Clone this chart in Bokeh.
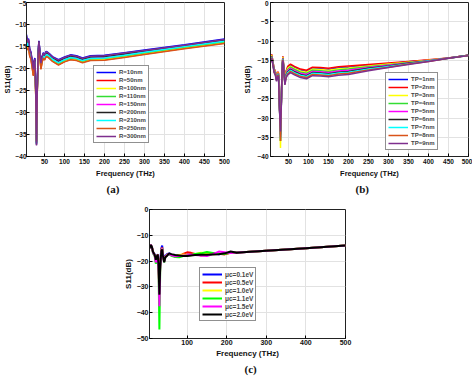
from bokeh.plotting import figure
from bokeh.models import Range1d, FixedTicker, Legend, LegendItem, Title, Spacer
from bokeh.layouts import column, row
from bokeh.embed import file_html
from bokeh.resources import INLINE

# ---------------- Panel (a): radius R ----------------
xa = [5, 7, 10, 13, 16, 19, 22, 24, 26, 28, 30, 32, 34, 36, 38, 41, 44, 47, 50, 54, 58, 62,
      70, 85, 100, 115, 130, 145, 165, 200, 250, 300, 400, 500]
a_r10 = [-12.3, -13.8, -13.2, -15.5, -16.2, -18.0, -20.0, -18.2, -17.6, -24.0, -37.0, -24.0, -16.5, -13.7, -15.5, -18.6, -17.2, -16.4, -16.9, -16.1, -16.3, -16.6, -17.3, -18.0, -17.4, -16.9, -17.1, -17.6, -17.1, -17.0, -16.4, -15.8, -14.6, -13.3]
a_r50 = [-15.2, -15.6, -15.0, -17.0, -17.7, -19.5, -21.5, -19.7, -19.1, -25.6, -36.7, -25.0, -18.0, -14.5, -17.0, -20.0, -18.5, -17.5, -18.0, -17.2, -17.3, -17.6, -18.3, -19.1, -18.4, -17.9, -18.1, -18.6, -18.1, -18.0, -17.4, -16.7, -15.4, -14.2]
a_r100 = [-14.8, -15.4, -14.8, -16.8, -17.5, -19.3, -21.3, -19.5, -18.9, -25.4, -36.8, -24.9, -17.8, -14.4, -16.8, -19.8, -18.4, -17.4, -17.9, -17.1, -17.2, -17.5, -18.2, -19.0, -18.3, -17.8, -18.0, -18.5, -18.0, -17.9, -17.3, -16.6, -15.3, -14.1]
a_r110 = [-14.1, -15.0, -14.4, -16.5, -17.2, -19.0, -21.0, -19.2, -18.6, -25.1, -37.0, -24.7, -17.5, -14.2, -16.5, -19.5, -18.1, -17.2, -17.7, -16.9, -17.0, -17.3, -18.0, -18.8, -18.1, -17.6, -17.8, -18.3, -17.8, -17.7, -17.1, -16.4, -15.1, -13.9]
a_r150 = [-13.2, -14.5, -13.9, -16.1, -16.8, -18.6, -20.6, -18.8, -18.2, -24.7, -37.2, -24.5, -17.1, -14.0, -16.1, -19.2, -17.8, -16.9, -17.4, -16.6, -16.8, -17.1, -17.8, -18.5, -17.9, -17.4, -17.6, -18.1, -17.6, -17.5, -16.9, -16.2, -14.9, -13.6]
a_r200 = [-12.8, -14.2, -13.6, -15.9, -16.6, -18.4, -20.4, -18.6, -18.0, -24.5, -37.3, -24.4, -16.9, -13.9, -15.9, -19.0, -17.6, -16.7, -17.2, -16.4, -16.6, -16.9, -17.6, -18.3, -17.7, -17.2, -17.4, -17.9, -17.4, -17.3, -16.7, -16.0, -14.8, -13.5]
a_r210 = [-13.7, -14.8, -14.2, -16.3, -17.0, -18.8, -20.8, -19.0, -18.4, -24.9, -37.1, -24.6, -17.3, -14.1, -16.3, -19.4, -18.0, -17.1, -17.6, -16.8, -16.9, -17.2, -17.9, -18.7, -18.0, -17.5, -17.7, -18.2, -17.7, -17.6, -17.0, -16.3, -15.0, -13.8]
a_r250 = [-15.6, -15.8, -15.2, -17.2, -17.9, -19.7, -21.7, -19.9, -19.3, -25.8, -36.6, -25.1, -18.2, -14.6, -17.2, -20.2, -18.6, -17.6, -18.1, -17.3, -17.4, -17.7, -18.4, -19.2, -18.5, -18.0, -18.2, -18.7, -18.2, -18.1, -17.5, -16.8, -15.5, -14.3]
a_r300 = [-12.5, -14.0, -13.4, -15.7, -16.4, -18.2, -20.2, -18.4, -17.8, -24.3, -37.5, -24.3, -16.7, -13.8, -15.7, -18.8, -17.4, -16.5, -17.0, -16.2, -16.4, -16.7, -17.4, -18.1, -17.5, -17.0, -17.2, -17.7, -17.2, -17.1, -16.5, -15.9, -14.7, -13.4]
a_labels = ["R=10nm", "R=50nm", "R=100nm", "R=110nm", "R=150nm", "R=200nm", "R=210nm", "R=250nm", "R=300nm"]
a_series = [a_r10, a_r50, a_r100, a_r110, a_r150, a_r200, a_r210, a_r250, a_r300]

# ---------------- Panel (b): thickness TP ----------------
xb = [5, 8, 11, 14, 17, 20, 23, 25, 28, 30, 32, 34, 36, 38, 41, 44, 48, 55, 65, 80, 95, 110,
      130, 150, 175, 200, 250, 300, 350, 400, 450, 500]
b_tp1 = [-14.6, -13.6, -15.3, -17.3, -17.9, -19.6, -18.1, -18.4, -28.1, -35.0, -26.1, -16.6, -14.1, -16.6, -20.2, -18.0, -16.9, -16.3, -16.9, -17.6, -17.9, -17.1, -17.2, -17.4, -17.0, -16.8, -16.3, -15.9, -15.4, -15.0, -14.4, -13.7]
b_tp2 = [-14.5, -13.5, -15.2, -17.2, -17.8, -19.5, -18.0, -18.3, -28.0, -36.0, -26.0, -16.5, -14.0, -16.5, -20.0, -17.8, -16.6, -16.0, -16.6, -17.3, -17.6, -16.8, -16.9, -17.1, -16.7, -16.5, -16.1, -15.7, -15.3, -14.9, -14.4, -13.7]
b_tp3 = [-14.7, -13.7, -15.4, -17.4, -18.0, -19.7, -18.2, -18.5, -28.2, -37.8, -26.2, -16.7, -14.2, -16.7, -20.4, -18.2, -17.1, -16.5, -17.1, -17.8, -18.1, -17.3, -17.4, -17.6, -17.2, -17.0, -16.5, -16.0, -15.5, -15.0, -14.4, -13.7]
b_tp4 = [-14.9, -13.9, -15.6, -17.6, -18.2, -19.9, -18.4, -18.7, -28.4, -36.0, -26.4, -16.9, -14.4, -16.9, -20.5, -18.5, -17.4, -16.8, -17.4, -18.1, -18.4, -17.6, -17.7, -17.9, -17.5, -17.3, -16.7, -16.2, -15.6, -15.1, -14.4, -13.7]
b_tp5 = [-15.0, -14.0, -15.7, -17.7, -18.3, -20.0, -18.5, -18.8, -28.5, -35.0, -26.5, -17.0, -14.5, -17.0, -20.7, -18.7, -17.7, -17.1, -17.7, -18.4, -18.7, -17.9, -18.0, -18.2, -17.8, -17.6, -16.9, -16.3, -15.7, -15.1, -14.4, -13.7]
b_tp6 = [-15.1, -14.1, -15.8, -17.8, -18.4, -20.1, -18.6, -18.9, -28.6, -34.3, -26.6, -17.1, -14.6, -17.1, -20.9, -18.9, -18.0, -17.4, -18.0, -18.7, -19.0, -18.2, -18.3, -18.5, -18.1, -17.9, -17.1, -16.5, -15.8, -15.2, -14.5, -13.7]
b_tp7 = [-15.2, -14.2, -15.9, -17.9, -18.5, -20.2, -18.7, -19.0, -28.7, -35.5, -26.7, -17.2, -14.7, -17.2, -21.1, -19.1, -18.2, -17.6, -18.2, -18.9, -19.2, -18.4, -18.5, -18.7, -18.3, -18.1, -17.3, -16.6, -15.9, -15.2, -14.5, -13.75]
b_tp8 = [-15.3, -14.3, -16.0, -18.0, -18.6, -20.3, -18.8, -19.1, -28.8, -36.0, -26.8, -17.3, -14.8, -17.3, -21.3, -19.3, -18.5, -17.9, -18.5, -19.2, -19.5, -18.7, -18.8, -19.0, -18.6, -18.4, -17.5, -16.8, -16.0, -15.3, -14.5, -13.8]
b_tp9 = [-15.5, -14.5, -16.2, -18.2, -18.8, -20.5, -19.0, -19.3, -29.0, -33.5, -27.0, -17.5, -15.0, -17.5, -21.4, -19.6, -18.8, -18.2, -18.8, -19.5, -19.8, -19.0, -19.1, -19.3, -18.9, -18.7, -17.7, -16.9, -16.1, -15.3, -14.5, -13.8]
b_labels = ["TP=1nm", "TP=2nm", "TP=3nm", "TP=4nm", "TP=5nm", "TP=6nm", "TP=7nm", "TP=8nm", "TP=9nm"]
b_series = [b_tp1, b_tp2, b_tp3, b_tp4, b_tp5, b_tp6, b_tp7, b_tp8, b_tp9]

# ---------------- Panel (c): chemical potential ----------------
xc = [5, 8, 11, 14, 18, 21, 24, 26, 28, 30, 32, 35, 37, 39, 42, 45, 50, 55, 60, 70, 80, 90,
      100, 110, 120, 135, 150, 165, 180, 195, 210, 225, 250, 300, 400, 500]
c_01 = [-14.8, -13.7, -14.4, -16.4, -17.4, -19.4, -17.9, -17.4, -21.5, -30.0, -20.0, -15.0, -14.0, -17.0, -19.5, -18.0, -17.2, -17.0, -17.5, -17.8, -17.9, -17.7, -17.5, -17.4, -17.5, -17.6, -17.2, -17.0, -17.3, -17.1, -16.6, -16.7, -16.5, -16.0, -15.0, -14.0]
c_05 = [-14.9, -13.8, -14.5, -16.5, -17.6, -19.6, -18.0, -17.5, -22.5, -31.0, -21.0, -15.5, -14.8, -17.5, -20.0, -18.3, -17.5, -17.2, -17.6, -18.2, -18.3, -17.2, -16.6, -16.8, -17.2, -17.8, -17.6, -17.0, -17.2, -17.4, -16.8, -16.7, -16.5, -16.0, -15.0, -14.0]
c_10 = [-15.0, -13.9, -14.6, -16.6, -17.7, -19.8, -18.2, -17.6, -23.0, -35.0, -22.0, -15.8, -15.0, -17.8, -20.2, -18.4, -17.6, -17.3, -17.8, -18.0, -17.6, -17.4, -17.6, -17.7, -17.3, -16.8, -16.9, -17.3, -17.2, -17.0, -16.7, -16.6, -16.5, -16.0, -15.0, -14.0]
c_11 = [-15.2, -14.0, -14.8, -17.0, -18.0, -21.0, -19.0, -17.8, -25.0, -46.5, -24.0, -16.2, -15.2, -18.2, -20.4, -18.6, -17.8, -17.4, -17.9, -18.4, -18.5, -18.0, -17.8, -17.6, -17.2, -17.0, -16.5, -16.9, -17.1, -17.2, -16.8, -16.6, -16.5, -16.0, -15.0, -14.0]
c_15 = [-15.1, -13.9, -14.7, -16.8, -17.8, -20.5, -18.6, -17.7, -24.0, -37.5, -23.0, -16.0, -15.2, -18.0, -20.3, -18.5, -17.7, -17.3, -17.7, -18.1, -18.0, -17.8, -17.7, -17.5, -17.6, -17.8, -18.0, -17.3, -16.3, -16.6, -16.9, -16.7, -16.5, -16.0, -15.0, -14.0]
c_20 = [-15.0, -13.8, -14.5, -16.5, -17.5, -19.5, -18.0, -17.5, -22.0, -33.0, -22.0, -16.0, -15.5, -18.0, -20.5, -18.5, -17.8, -17.0, -17.3, -17.6, -17.8, -18.0, -18.0, -17.8, -17.6, -17.5, -17.5, -17.4, -17.3, -17.0, -16.3, -16.8, -16.5, -16.0, -15.0, -14.0]
c_labels = ["\u03bcc=0.1eV", "\u03bcc=0.5eV", "\u03bcc=1.0eV", "\u03bcc=1.1eV", "\u03bcc=1.5eV", "\u03bcc=2.0eV"]
c_series = [c_01, c_05, c_10, c_11, c_15, c_20]

colors9 = ["#0000ff", "#ff0000", "#ffff00", "#33dd33", "#ff00ff", "#222222", "#00ffff", "#d95319", "#7e2f8e"]
colors6 = ["#0000ff", "#ff0000", "#ffff00", "#00ff00", "#ff00ff", "#000000"]

FONT = "Liberation Sans"


def make_panel(xs, series, labels, colors, xr, yr, xticks, yticks, tag, tag_offset,
               frame, borders, legend_loc, lw, leg_fs, tick_fs, lab_fs, stand, ystand):
    p = figure(frame_width=frame[0], frame_height=frame[1], output_backend="svg",
               toolbar_location=None, x_range=Range1d(*xr), y_range=Range1d(*yr),
               min_border_left=borders[0], min_border_right=borders[1],
               min_border_top=borders[2], min_border_bottom=borders[3])
    p.background_fill_color = "white"
    p.border_fill_color = "white"
    p.outline_line_color = "#222222"
    p.outline_line_width = 1
    items = []
    for ys, lab, col in zip(series, labels, colors):
        r = p.line(xs, ys, line_color=col, line_width=lw)
        items.append(LegendItem(label=lab, renderers=[r]))
    leg = Legend(items=items, location=legend_loc)
    leg.label_text_font = FONT
    leg.label_text_font_style = "bold"
    leg.label_text_font_size = leg_fs
    leg.label_height = 8
    leg.glyph_height = 8
    leg.glyph_width = 20
    leg.label_standoff = 3
    leg.spacing = 0
    leg.padding = 2
    leg.margin = 0
    leg.border_line_color = "#222222"
    leg.border_line_width = 1
    leg.background_fill_color = "white"
    leg.background_fill_alpha = 1.0
    p.add_layout(leg)
    p.xaxis.ticker = FixedTicker(ticks=xticks)
    p.yaxis.ticker = FixedTicker(ticks=yticks)
    p.xaxis.axis_label = "Frequency (THz)"
    p.yaxis.axis_label = "S11(dB)"
    for ax in (p.xaxis, p.yaxis):
        ax.axis_label_text_font = FONT
        ax.axis_label_text_font_style = "bold"
        ax.axis_label_text_font_size = lab_fs
        ax.major_label_text_font = FONT
        ax.major_label_text_font_style = "bold"
        ax.major_label_text_font_size = tick_fs
        ax.major_label_text_color = "#111111"
        ax.axis_label_text_color = "#111111"
        ax.axis_line_color = "#222222"
        ax.major_tick_in = 3
        ax.major_tick_out = 0
        ax.minor_tick_line_color = None
        ax.major_label_standoff = stand
        ax.axis_label_standoff = stand
    p.yaxis.major_label_standoff = ystand
    p.yaxis.axis_label_standoff = ystand
    p.grid.grid_line_color = "#e2e2e2"
    p.grid.grid_line_width = 1
    t = Title(text=tag, align="left", offset=tag_offset, text_font="Liberation Serif",
              text_font_style="bold", text_font_size="11px", standoff=0, text_color="#111111")
    p.add_layout(t, "below")
    return p


pa = make_panel(xa, a_series, a_labels, colors9, (5, 500), (-40, -5),
                [50, 100, 150, 200, 250, 300, 350, 400, 450, 500],
                [-40, -35, -30, -25, -20, -15, -10, -5], "(a)", 80,
                (198, 154), (24, 16, 2, 40), (67, 13), 1.5, "6px", "6.5px", "7.5px", 2, 0)
pb = make_panel(xb, b_series, b_labels, colors9, (5, 500), (-40, 0),
                [50, 100, 150, 200, 250, 300, 350, 400, 450, 500],
                [-40, -35, -30, -25, -20, -15, -10, -5, 0], "(b)", 85,
                (198, 154), (30, 4, 2, 40), (115, 6), 1.5, "6px", "6.5px", "7.5px", 2, 2)
pc = make_panel(xc, c_series, c_labels, colors6, (5, 500), (-50, 0),
                [100, 200, 300, 400, 500],
                [-50, -40, -30, -20, -10, 0], "(c)", 95,
                (196, 129), (32, 12, 13, 40), (50, 17), 2, "6.5px", "7px", "8px", 1, 1)

layout = column(row(pa, pb), row(Spacer(width=117, height=182), pc))

open("out.html", "w").write(file_html(layout, INLINE))
